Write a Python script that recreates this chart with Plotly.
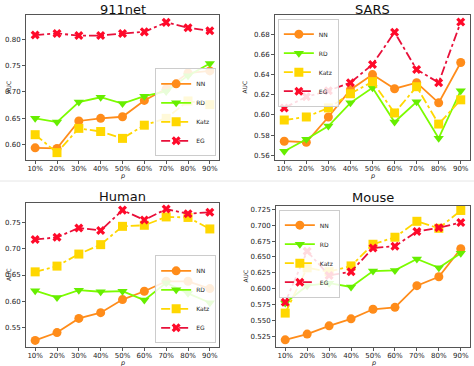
import plotly.graph_objects as go

cats = ["10%", "20%", "30%", "40%", "50%", "60%", "70%", "80%", "90%"]

net911_nn = [0.594, 0.593, 0.645, 0.650, 0.653, 0.684, 0.706, 0.736, 0.740]
net911_rd = [0.650, 0.643, 0.681, 0.690, 0.678, 0.692, 0.701, 0.731, 0.754]
net911_katz = [0.619, 0.585, 0.631, 0.625, 0.612, 0.637, 0.650, 0.683, 0.676]
net911_eg = [0.808, 0.811, 0.807, 0.807, 0.811, 0.814, 0.832, 0.822, 0.816]

sars_nn = [0.574, 0.573, 0.598, 0.625, 0.640, 0.626, 0.632, 0.612, 0.652]
sars_rd = [0.564, 0.576, 0.589, 0.612, 0.627, 0.593, 0.613, 0.577, 0.624]
sars_katz = [0.595, 0.598, 0.607, 0.621, 0.633, 0.602, 0.628, 0.591, 0.615]
sars_eg = [0.607, 0.618, 0.624, 0.632, 0.650, 0.682, 0.645, 0.632, 0.692]

human_nn = [0.525, 0.540, 0.567, 0.578, 0.603, 0.619, 0.638, 0.638, 0.624]
human_rd = [0.620, 0.607, 0.621, 0.618, 0.619, 0.602, 0.635, 0.615, 0.597]
human_katz = [0.656, 0.667, 0.690, 0.708, 0.743, 0.745, 0.761, 0.760, 0.738]
human_eg = [0.718, 0.722, 0.740, 0.735, 0.774, 0.755, 0.776, 0.767, 0.770]

mouse_nn = [0.520, 0.529, 0.542, 0.553, 0.568, 0.571, 0.605, 0.619, 0.663]
mouse_rd = [0.578, 0.605, 0.609, 0.603, 0.628, 0.629, 0.647, 0.633, 0.656]
mouse_katz = [0.562, 0.633, 0.627, 0.636, 0.670, 0.681, 0.706, 0.695, 0.723]
mouse_eg = [0.579, 0.659, 0.621, 0.627, 0.664, 0.667, 0.690, 0.696, 0.704]

panels = [
    dict(title="911net", data=[net911_nn, net911_rd, net911_katz, net911_eg],
         xd=[26, 219], yd=[15, 160], yr=[0.571, 0.846],
         tv=[0.60, 0.65, 0.70, 0.75, 0.80], fmt="%.2f", leg="br", ty=9),
    dict(title="SARS", data=[sars_nn, sars_rd, sars_katz, sars_eg],
         xd=[275, 470], yd=[15, 160], yr=[0.5554, 0.699],
         tv=[0.56, 0.58, 0.60, 0.62, 0.64, 0.66, 0.68], fmt="%.2f", leg="tl", ty=9),
    dict(title="Human", data=[human_nn, human_rd, human_katz, human_eg],
         xd=[26, 219], yd=[203, 347], yr=[0.5124, 0.7876],
         tv=[0.55, 0.60, 0.65, 0.70, 0.75], fmt="%.2f", leg="br", ty=196),
    dict(title="Mouse", data=[mouse_nn, mouse_rd, mouse_katz, mouse_eg],
         xd=[276, 470], yd=[206, 347], yr=[0.5088, 0.730],
         tv=[0.525, 0.55, 0.575, 0.60, 0.625, 0.65, 0.675, 0.70, 0.725], fmt="%.3f", leg="tl", ty=197),
]

names = ["NN", "RD", "Katz", "EG"]
colors = ["#ff8c1a", "#7cfc00", "#ffd700", "#e8103a"]
mcolors = ["#ff8c1a", "#66ee00", "#ffd700", "#ff0a2a"]
symbols = ["circle", "triangle-down", "square", "x"]
dashes = ["solid", "solid", "dashdot", "dashdot"]

W, H = 474, 366
fig = go.Figure()
xs = list(range(len(cats)))

for i, p in enumerate(panels):
    k = "" if i == 0 else str(i + 1)
    legname = "legend" + k
    for j in range(4):
        fig.add_trace(go.Scatter(
            x=xs, y=p["data"][j], name=names[j], mode="lines+markers",
            line=dict(color=colors[j], width=1.8, dash=dashes[j]),
            marker=dict(symbol=symbols[j], size=9 if j != 3 else 8, color=mcolors[j],
                        line=dict(width=0)),
            xaxis="x" + k, yaxis="y" + k, legend=legname,
        ))
    x0, x1 = p["xd"][0] / W, p["xd"][1] / W
    y0, y1 = 1 - p["yd"][1] / H, 1 - p["yd"][0] / H
    fig.layout["xaxis" + k] = dict(
        domain=[x0, x1], anchor="y" + k, range=[-0.42, 8.42], automargin=False,
        tickvals=xs, ticktext=cats, showline=True, mirror=True,
        linecolor="#555", linewidth=1, ticks="outside", ticklen=3, tickcolor="#555",
        ticklabelstandoff=-1,
        showgrid=False, zeroline=False, tickfont=dict(size=7, color="#222"),
    )
    fig.layout["yaxis" + k] = dict(
        domain=[y0, y1], anchor="x" + k, range=p["yr"], automargin=False,
        tickvals=p["tv"], ticktext=[p["fmt"] % v for v in p["tv"]],
        showline=True, mirror=True, linecolor="#555", linewidth=1,
        ticks="outside", ticklen=3, tickcolor="#555", showgrid=False, zeroline=False,
        tickfont=dict(size=7, color="#222"),
    )
    if p["leg"] == "br":
        lx, ly, xa, ya = x1 - 0.006, y0 + 0.01, "right", "bottom"
    else:
        lx, ly, xa, ya = x0 + 0.006, y1 - 0.01, "left", "top"
    fig.layout[legname] = dict(
        x=lx, y=ly, xanchor=xa, yanchor=ya, bgcolor="rgba(255,255,255,0.85)",
        bordercolor="#ccc", borderwidth=1, font=dict(size=6, color="#222"),
        itemwidth=30, tracegroupgap=0,
    )
    fig.add_annotation(
        text=p["title"], x=(x0 + x1) / 2, y=1 - p["ty"] / H, xref="paper", yref="paper",
        xanchor="center", yanchor="middle", showarrow=False,
        font=dict(size=13, color="#111"),
    )
    fig.add_annotation(
        text="AUC", x=x0, y=(y0 + y1) / 2, xref="paper", yref="paper",
        xanchor="center", yanchor="middle", xshift=-18 if i % 2 == 0 else -31,
        textangle=-90, showarrow=False, font=dict(size=6, color="#222"),
    )
    fig.add_annotation(
        text="<i>p</i>", x=(x0 + x1) / 2, y=y0, xref="paper", yref="paper",
        xanchor="center", yanchor="middle", yshift=-15.5, showarrow=False,
        font=dict(size=6.5, color="#222"),
    )

fig.add_shape(type="line", xref="paper", yref="paper", x0=0, x1=1,
              y0=1 - 181 / H, y1=1 - 181 / H, line=dict(color="#e6e6e6", width=1))

fig.update_layout(
    width=W, height=H, margin=dict(l=0, r=0, t=0, b=0),
    paper_bgcolor="white", plot_bgcolor="white",
    font=dict(family="DejaVu Sans", size=7, color="#222"),
    showlegend=True,
)

fig.write_html(
    "out.html",
    config={"displayModeBar": False},
    post_script="document.body.style.margin='0';document.body.style.overflow='hidden';",
)
